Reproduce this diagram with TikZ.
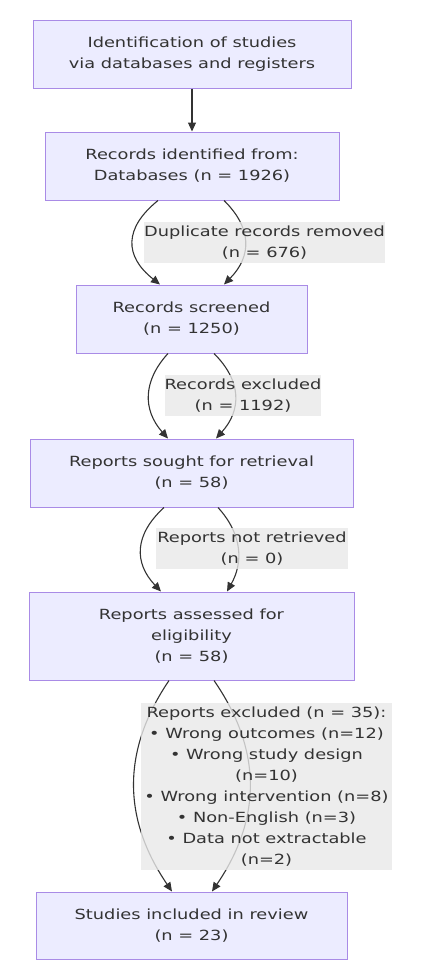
\documentclass[tikz,border=0pt]{standalone}
\usepackage{fontspec}
\setmainfont{DejaVu Sans}[FakeStretch=1.27]
\usepackage{xcolor}
\definecolor{mmfill}{HTML}{ECECFF}
\definecolor{mmline}{HTML}{A98BE6}
\definecolor{mmtext}{HTML}{333333}
\definecolor{mmlabel}{HTML}{E8E8E8}
\usetikzlibrary{arrows.meta}

\begin{document}
\begin{tikzpicture}[x=1pt,y=-1pt,font={\fontsize{14pt}{21pt}\selectfont},text=mmtext,
  box/.style={draw=mmline,fill=mmfill,line width=1pt,align=center,minimum height=68pt,inner sep=0pt},
  lbl/.style={fill=mmlabel,fill opacity=0.8,text opacity=1,align=center,inner sep=0pt},
  flow/.style={draw=mmtext,line width=1.1pt,-{Triangle[length=9pt,width=8pt]}}]
  \useasboundingbox (0,0) rectangle (421,980);
  % boxes
  \node[box,minimum width=318pt] (ident) at (192,54) {Identification of studies\\via databases and registers};
  \node[box,minimum width=294pt] (recid) at (192,166) {Records identified from:\\Databases (n = 1926)};
  \node[box,minimum width=231pt] (screen) at (191.5,319) {Records screened\\(n = 1250)};
  \node[box,minimum width=323pt] (sought) at (191.5,473) {Reports sought for retrieval\\(n = 58)};
  \node[box,minimum width=325pt,minimum height=88pt] (assess) at (191.5,636) {Reports assessed for\\eligibility\\(n = 58)};
  \node[box,minimum width=311pt,minimum height=67pt] (incl) at (191.5,925.5) {Studies included in review\\(n = 23)};
  % edges
  \draw[flow] (ident) -- (recid);
  \draw[flow] ([xshift=-34pt]recid.south) .. controls (124,228) and (124,256) .. ([xshift=-31.5pt]screen.north);
  \draw[flow] ([xshift=32pt]recid.south) .. controls (252,228) and (252,256) .. ([xshift=32.5pt]screen.north);
  \draw[flow] ([xshift=-23.5pt]screen.south) .. controls (142.7,381) and (142.7,410) .. ([xshift=-23.5pt]sought.north);
  \draw[flow] ([xshift=22.5pt]screen.south) .. controls (241.7,381) and (241.7,410) .. ([xshift=24.5pt]sought.north);
  \draw[flow] ([xshift=-27.5pt]sought.south) .. controls (134,535) and (134,563) .. ([xshift=-30.5pt]assess.north);
  \draw[flow] ([xshift=26.5pt]sought.south) .. controls (243,535) and (243,563) .. ([xshift=35.5pt]assess.north);
  \draw[flow] ([xshift=-22.5pt]assess.south) .. controls (122,750) and (122,818) .. ([xshift=-19.5pt]incl.north);
  \draw[flow] ([xshift=22.5pt]assess.south) .. controls (262,750) and (262,818) .. ([xshift=20.5pt]incl.north);
  % edge labels
  \node[lbl,minimum width=241pt,minimum height=41pt] (dup) at (264.5,242.5) {Duplicate records removed\\(n = 676)};
  \node[lbl,minimum width=156pt,minimum height=41pt] (excl) at (243,395.5) {Records excluded\\(n = 1192)};
  \node[lbl,minimum width=192pt,minimum height=41pt] (notret) at (252,548.5) {Reports not retrieved\\(n = 0)};
  \node[lbl,minimum width=251pt,minimum height=167pt] (repexcl) at (266.5,786.5) {Reports excluded (n = 35):\\\textbullet{} Wrong outcomes (n=12)\\\textbullet{} Wrong study design\\(n=10)\\\textbullet{} Wrong intervention (n=8)\\\textbullet{} Non-English (n=3)\\\textbullet{} Data not extractable\\(n=2)};
\end{tikzpicture}
\end{document}
